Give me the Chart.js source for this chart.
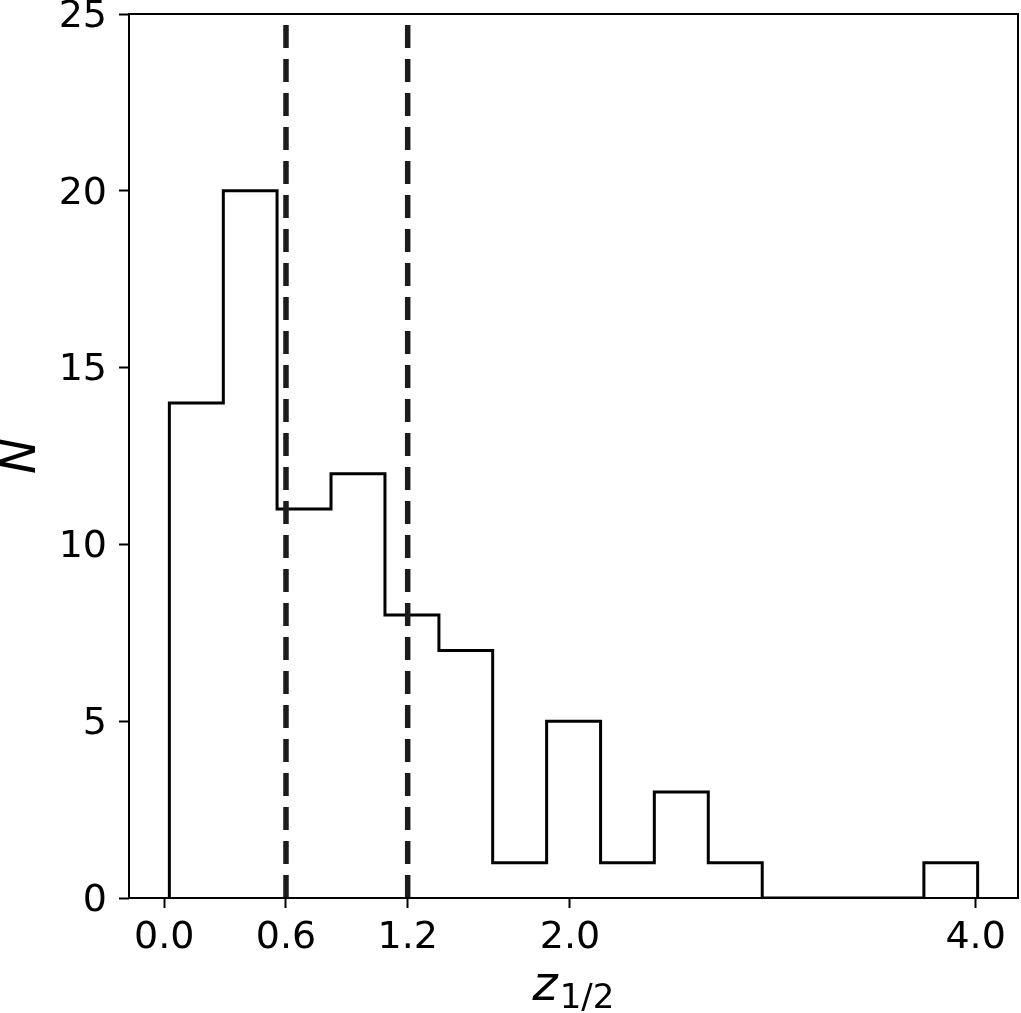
<!DOCTYPE html>
<html>
<head>
<meta charset="utf-8">
<title>z1/2 histogram</title>
<script src="https://cdn.jsdelivr.net/npm/chart.js@4.4.1/dist/chart.umd.min.js"></script>
<style>
  html, body { margin: 0; padding: 0; background: #fff; overflow: hidden; }
  #wrap { width: 1021px; height: 1013px; position: relative; }
</style>
</head>
<body>
<div id="wrap"><canvas id="histChart"></canvas></div>
<script>
// Histogram bins (z_1/2) and counts per bin
const binEdges = [0.025, 0.291, 0.556, 0.822, 1.088, 1.354, 1.619, 1.885, 2.151, 2.416, 2.682, 2.948, 3.213, 3.479, 3.745, 4.010]
const binCounts = [14, 20, 11, 12, 8, 7, 1, 5, 1, 3, 1, 0, 0, 0, 1]
// dashed reference lines
const markerLines = [0.6, 1.2]
// tick labels
const xTicks = [0.0, 0.6, 1.2, 2.0, 4.0]
const yTicks = [0, 5, 10, 15, 20, 25]

const FONT = "'DejaVu Sans', 'Liberation Sans', sans-serif"

document.addEventListener("DOMContentLoaded", () => {
  // outline of the histogram (step shape)
  const stepPoints = [{ x: binEdges[0], y: 0 }]
  binCounts.forEach((c, i) => {
    stepPoints.push({ x: binEdges[i], y: c })
    stepPoints.push({ x: binEdges[i + 1], y: c })
  })
  stepPoints.push({ x: binEdges[binEdges.length - 1], y: 0 })

  const yMax = yTicks[yTicks.length - 1]
  const markerSets = markerLines.map((v) => ({
    data: [{ x: v, y: 0 }, { x: v, y: yMax }],
    borderColor: "#1c1c1c",
    borderWidth: 5.5,
    borderDash: [23, 11],
    pointRadius: 0,
    order: 1,
  }))

  // frame + axis titles (x title has a subscript)
  const framePlugin = {
    id: "frame",
    afterDraw(chart) {
      const { ctx, chartArea: a } = chart
      ctx.save()
      ctx.strokeStyle = "#000"
      ctx.lineWidth = 2
      ctx.strokeRect(a.left, a.top, a.right - a.left, a.bottom - a.top)

      ctx.fillStyle = "#000"
      ctx.textBaseline = "alphabetic"
      ctx.textAlign = "left"
      ctx.font = "italic 48px " + FONT
      const wz = ctx.measureText("z").width
      ctx.font = "34px " + FONT
      const ws = ctx.measureText("1/2").width
      const cx = (a.left + a.right) / 2
      const x0 = cx - (wz + 2 + ws) / 2
      ctx.font = "italic 48px " + FONT
      ctx.fillText("z", x0, 1000)
      ctx.font = "34px " + FONT
      ctx.fillText("1/2", x0 + wz + 2, 1007.5)

      ctx.translate(35, (a.top + a.bottom) / 2)
      ctx.rotate(-Math.PI / 2)
      ctx.textAlign = "center"
      ctx.font = "italic 48px " + FONT
      ctx.fillText("N", 0, 0)
      ctx.restore()
    },
  }

  const tickGrid = {
    display: true,
    drawOnChartArea: false,
    drawTicks: true,
    tickLength: 10,
    tickWidth: 2,
    tickColor: "#000",
  }

  const ctx = document.getElementById("histChart").getContext("2d")
  new Chart(ctx, {
    type: "line",
    data: {
      datasets: [
        {
          data: stepPoints,
          borderColor: "#000",
          borderWidth: 3,
          pointRadius: 0,
          fill: false,
          order: 2,
        },
        ...markerSets,
      ],
    },
    options: {
      responsive: true,
      maintainAspectRatio: false,
      animation: false,
      layout: { padding: { top: 14, right: 3, left: 0, bottom: 0 } },
      plugins: {
        legend: { display: false },
        tooltip: { enabled: false },
      },
      scales: {
        x: {
          type: "linear",
          min: -0.174,
          max: 4.209,
          afterBuildTicks: (s) => {
            s.ticks = xTicks.map((v) => ({ value: v }))
          },
          afterFit: (s) => {
            s.height = 115
            s.paddingLeft = 0
            s.paddingRight = 0
          },
          ticks: {
            autoSkip: false,
            maxRotation: 0,
            padding: 7,
            color: "#000",
            font: { family: FONT, size: 38 },
            callback: (v) => Number(v).toFixed(1),
          },
          grid: tickGrid,
          border: { display: false },
        },
        y: {
          min: 0,
          max: yMax,
          afterBuildTicks: (s) => {
            s.ticks = yTicks.map((v) => ({ value: v }))
          },
          afterFit: (s) => {
            s.width = 129
            s.paddingTop = 0
            s.paddingBottom = 0
          },
          ticks: {
            padding: 12,
            labelOffset: 3,
            color: "#000",
            font: { family: FONT, size: 38 },
          },
          grid: tickGrid,
          border: { display: false },
        },
      },
    },
    plugins: [framePlugin],
  })
})
</script>
</body>
</html>
